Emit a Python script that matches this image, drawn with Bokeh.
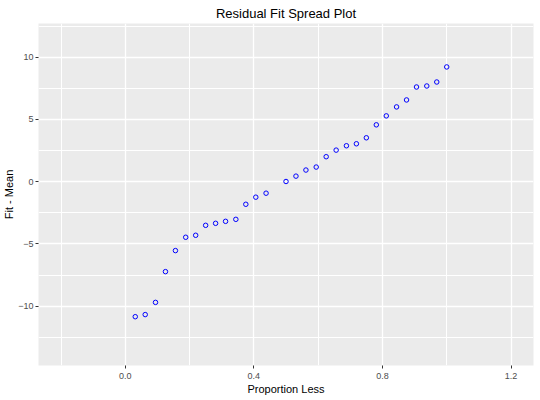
# -*- coding: utf-8 -*-
# Residual Fit Spread Plot, ggplot-like look in bokeh
from bokeh.plotting import figure
from bokeh.models import FixedTicker, NumeralTickFormatter, Range1d
from bokeh.embed import file_html
from bokeh.resources import INLINE

# data
prop_less = [0.031, 0.062, 0.094, 0.125, 0.156, 0.188, 0.219, 0.250,
             0.281, 0.312, 0.344, 0.375, 0.406, 0.438, 0.500, 0.531,
             0.562, 0.594, 0.625, 0.656, 0.688, 0.719, 0.750, 0.781,
             0.812, 0.844, 0.875, 0.906, 0.938, 0.969, 1.000]
fit_mean = [-10.84, -10.67, -9.69, -7.22, -5.53, -4.46, -4.30, -3.50,
            -3.34, -3.18, -3.02, -1.81, -1.24, -0.92, 0.02, 0.45,
            0.94, 1.18, 2.01, 2.54, 2.89, 3.05, 3.53, 4.57,
            5.29, 6.01, 6.57, 7.61, 7.69, 8.01, 9.22]

x_ticks = [0.0, 0.4, 0.8, 1.2]
x_minor = [-0.2, 0.2, 0.6, 1.0]
y_ticks = [-10, -5, 0, 5, 10]
y_minor = [-12.5, -7.5, -2.5, 2.5, 7.5, 12.5]

title_text = "Residual Fit Spread Plot"
x_label = "Proportion Less"
y_label = "Fit - Mean"

FONT = "Liberation Sans"

p = figure(width=540, height=400,
           x_range=Range1d(-0.27, 1.27), y_range=Range1d(-14.76, 12.71),
           title=title_text, x_axis_label=x_label, y_axis_label=y_label,
           output_backend="svg", toolbar_location=None,
           min_border_left=38, min_border_right=7,
           min_border_top=23, min_border_bottom=35)

p.background_fill_color = "#EBEBEB"
p.border_fill_color = "white"
p.outline_line_color = None

# 标题
p.title.align = "center"
p.title.text_font = FONT
p.title.text_font_size = "13px"
p.title.text_font_style = "normal"
p.title.text_color = "black"
p.title.standoff = 5
p.title.offset = 0

# 网格
p.xaxis.ticker = FixedTicker(ticks=x_ticks, minor_ticks=x_minor)
p.yaxis.ticker = FixedTicker(ticks=y_ticks, minor_ticks=y_minor)
p.xaxis.formatter = NumeralTickFormatter(format="0.0")
for g in (p.xgrid, p.ygrid):
    g.grid_line_color = "white"
    g.grid_line_width = 1.3
    g.minor_grid_line_color = "white"
    g.minor_grid_line_width = 1.0

# 坐标轴
for ax in (p.xaxis, p.yaxis):
    ax.axis_line_color = None
    ax.major_tick_line_color = "#333333"
    ax.major_tick_out = 3
    ax.major_tick_in = 0
    ax.minor_tick_line_color = None
    ax.major_label_text_font = FONT
    ax.major_label_text_font_size = "9px"
    ax.major_label_text_color = "#4D4D4D"
    ax.axis_label_text_font = FONT
    ax.axis_label_text_font_size = "11px"
    ax.axis_label_text_font_style = "normal"
    ax.axis_label_text_color = "black"
p.xaxis.major_label_standoff = 3
p.xaxis.axis_label_standoff = 1
p.yaxis.major_label_standoff = 1
p.yaxis.axis_label_standoff = 0

# 散点
p.scatter(prop_less, fit_mean, size=4.5, marker="circle",
          fill_color=None, line_color="blue", line_width=1)

open("out.html", "w").write(file_html(p, INLINE))
